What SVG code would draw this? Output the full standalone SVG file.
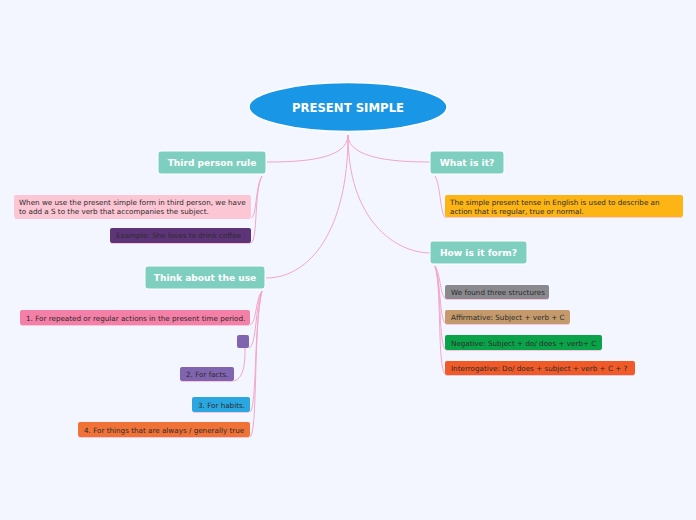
<svg xmlns="http://www.w3.org/2000/svg" width="696" height="520" viewBox="0 0 696 520">
<style>
.bg{fill:#f3f6ff}
.main rect{fill:#7fcfc1;stroke:#ffffff;stroke-width:1}
.main text{font-family:"DejaVu Sans",Verdana,sans-serif;font-size:9.1px;font-weight:bold;fill:#ffffff}
.child text{font-family:"DejaVu Sans",Verdana,sans-serif;font-size:7.2px;fill:#2b2b2b}
.shadow{stroke:#f7c6dc;stroke-width:1;fill:none}
.conn path{fill:none;stroke:#f2a6c9;stroke-width:1}
</style>
<rect class="bg" x="0" y="0" width="696" height="520"/>
<g class="conn" id="connectors">
<path d="M348,135 C348,160 300,162 267,162"/>
<path d="M348,135 C348,230 310,278 266,278"/>
<path d="M348,135 C348,160 400,162 431,162"/>
<path d="M348,135 C348,220 395,253 431,253"/>
<path d="M262,176 C255,188 257,216 251,218"/>
<path d="M262,176 C254,190 258,240 251,243"/>
<path d="M435,176 C441,186 440,216 446,218"/>
<path d="M262,291 C255,300 257,322 250,325"/>
<path d="M262,291 C255,305 257,345 249,348"/>
<path d="M262,291 C254,320 257,408 250,412"/>
<path d="M262,291 C253,330 258,432 250,437"/>
<path d="M245,348 C245,360 245,378 234,381"/>
<path d="M435,266 C441,276 440,296 446,299"/>
<path d="M435,266 C441,280 439,320 446,324"/>
<path d="M435,266 C442,285 438,346 446,350"/>
<path d="M435,266 C442,290 437,372 446,375"/>
</g>
<g id="center">
<ellipse cx="348" cy="107" rx="99" ry="24.5" fill="#1a96e6" stroke="#ffffff" stroke-width="1.5"/>
<text x="348" y="111.5" text-anchor="middle" font-family="'DejaVu Sans',Verdana,sans-serif" font-size="11.7" font-weight="bold" fill="#ffffff">PRESENT SIMPLE</text>
</g>
<g id="third" class="main">
<rect x="158" y="151" width="108" height="23" rx="3"/>
<text x="212" y="166" text-anchor="middle">Third person rule</text>
</g>
<g id="third-1" class="child">
<rect x="14" y="195" width="237" height="23" rx="2" fill="#fdc6d4"/>
<line class="shadow" x1="15" y1="218.5" x2="250" y2="218.5"/>
<text x="19" y="205">When we use the present simple form in third person, we have</text>
<text x="19" y="213.5">to add a S to the verb that accompanies the subject.</text>
</g>
<g id="third-2" class="child">
<rect x="110" y="228" width="141" height="15" rx="2" fill="#5e3479"/>
<line class="shadow" x1="111" y1="243.5" x2="250" y2="243.5"/>
<text x="116" y="238.4">Example: She loves to drink coffee .</text>
</g>
<g id="what" class="main">
<rect x="430" y="151" width="74" height="23" rx="3"/>
<text x="467" y="166" text-anchor="middle">What is it?</text>
</g>
<g id="what-1" class="child">
<rect x="445" y="195" width="238" height="22" rx="2" fill="#fdb515"/>
<line class="shadow" x1="446" y1="217.5" x2="682" y2="217.5"/>
<text x="450" y="205">The simple present tense in English is used to describe an</text>
<text x="450" y="213.5">action that is regular, true or normal.</text>
</g>
<g id="how" class="main">
<rect x="430" y="241" width="97" height="23" rx="3"/>
<text x="478.5" y="256" text-anchor="middle">How is it form?</text>
</g>
<g id="how-1" class="child">
<rect x="445" y="285" width="104" height="14" rx="2" fill="#8a8a8e"/>
<line class="shadow" x1="446" y1="299.5" x2="548" y2="299.5"/>
<text x="451" y="295">We found three structures</text>
</g>
<g id="how-2" class="child">
<rect x="445" y="310" width="125" height="14" rx="2" fill="#c49a6c"/>
<line class="shadow" x1="446" y1="324.5" x2="569" y2="324.5"/>
<text x="451" y="320">Affirmative: Subject + verb + C</text>
</g>
<g id="how-3" class="child">
<rect x="445" y="335" width="157" height="15" rx="2" fill="#0aa34a"/>
<line class="shadow" x1="446" y1="350.5" x2="601" y2="350.5"/>
<text x="451" y="345.5">Negative: Subject + do/ does + verb+ C</text>
</g>
<g id="how-4" class="child">
<rect x="445" y="361" width="190" height="14" rx="2" fill="#ef5a28"/>
<line class="shadow" x1="446" y1="375.5" x2="634" y2="375.5"/>
<text x="451" y="371">Interrogative: Do/ does + subject + verb + C + ?</text>
</g>
<g id="use" class="main">
<rect x="145" y="266" width="120" height="23" rx="3"/>
<text x="205" y="281" text-anchor="middle">Think about the use</text>
</g>
<g id="use-1" class="child">
<rect x="20" y="310" width="230" height="15" rx="2" fill="#f47fa7"/>
<line class="shadow" x1="21" y1="325.5" x2="249" y2="325.5"/>
<text x="26" y="320.5">1. For repeated or regular actions in the present time period.</text>
</g>
<g id="use-blank" class="child">
<rect x="237" y="335" width="12" height="13" rx="2" fill="#8064b0"/>
</g>
<g id="use-2" class="child">
<rect x="180" y="367" width="54" height="14" rx="2" fill="#8064b0"/>
<line class="shadow" x1="181" y1="381.5" x2="233" y2="381.5"/>
<text x="186" y="377">2. For facts.</text>
</g>
<g id="use-3" class="child">
<rect x="192" y="397" width="58" height="15" rx="2" fill="#2aa7e0"/>
<line class="shadow" x1="193" y1="412.5" x2="249" y2="412.5"/>
<text x="198" y="407.5">3. For habits.</text>
</g>
<g id="use-4" class="child">
<rect x="78" y="422" width="172" height="15" rx="2" fill="#f07237"/>
<line class="shadow" x1="79" y1="437.5" x2="249" y2="437.5"/>
<text x="84" y="432.5">4. For things that are always / generally true</text>
</g>
</svg>
